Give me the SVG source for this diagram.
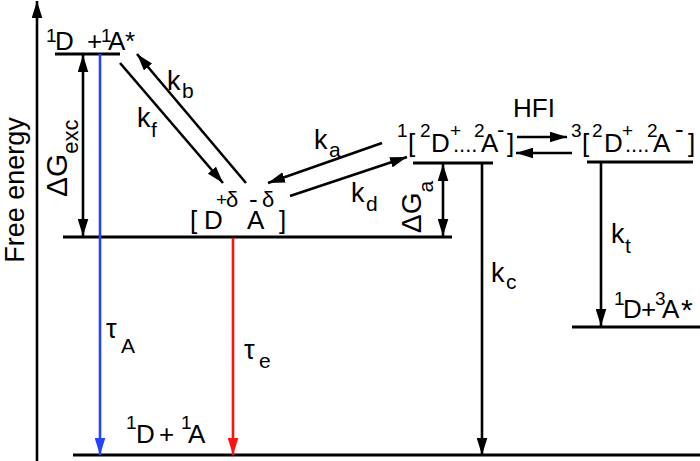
<svg xmlns="http://www.w3.org/2000/svg" width="700" height="461" viewBox="0 0 700 461">
<style>
text{font-family:"Liberation Sans",Arial,Helvetica,sans-serif;fill:#000;font-size:26px}
.s{font-size:19px}
.k{font-size:27px}
.ks{font-size:21px}
.d{font-size:22px}
.lvl{stroke:#000;stroke-width:3;fill:none}
.ar{stroke:#000;stroke-width:2.6;fill:none}
</style>
<defs>
<marker id="ah" markerUnits="userSpaceOnUse" markerWidth="17" markerHeight="11" refX="16" refY="5" orient="auto-start-reverse" viewBox="0 0 16 10"><path d="M0,0 L16,5 L0,10 z" fill="#000"/></marker>
<marker id="ahb" markerUnits="userSpaceOnUse" markerWidth="17" markerHeight="11" refX="16" refY="5" orient="auto" viewBox="0 0 16 10"><path d="M0,0 L16,5 L0,10 z" fill="#2244ff"/></marker>
<marker id="ahr" markerUnits="userSpaceOnUse" markerWidth="17" markerHeight="11" refX="16" refY="5" orient="auto" viewBox="0 0 16 10"><path d="M0,0 L16,5 L0,10 z" fill="#ff1111"/></marker>
</defs>
<g id="axis">
<line class="ar" x1="37" y1="461" x2="37" y2="1" marker-end="url(#ah)"/>
<text text-anchor="middle" transform="translate(24,190) rotate(-90)" style="font-size:27px">Free energy</text>
</g>
<g id="state-excited">
<line class="lvl" x1="55" y1="54" x2="120" y2="54"/>
<text><tspan class="s" x="46" y="42">1</tspan><tspan x="55" y="50">D</tspan><tspan x="87" y="50">+</tspan><tspan class="s" x="101" y="42">1</tspan><tspan x="108" y="50">A</tspan><tspan x="125" y="50">*</tspan></text>
</g>
<g id="state-exciplex">
<line class="lvl" x1="63" y1="237" x2="452" y2="237"/>
<text><tspan x="190" y="229">[</tspan><tspan x="204" y="229">D</tspan><tspan class="s" x="216" y="206">+</tspan><tspan class="d" x="226" y="207">δ</tspan><tspan style="font-size:26px" x="249" y="208">-</tspan><tspan x="247" y="229">A</tspan><tspan class="d" x="262" y="207">δ</tspan><tspan x="279" y="229">]</tspan></text>
</g>
<g id="state-singlet-rp">
<line class="lvl" x1="413" y1="163" x2="493" y2="163"/>
<text><tspan class="s" x="397" y="137">1</tspan><tspan x="408" y="152">[</tspan><tspan class="s" x="420" y="137">2</tspan><tspan x="431" y="152">D</tspan><tspan class="s" x="450" y="137">+</tspan><tspan x="453" y="152" style="font-size:22px">....</tspan><tspan class="s" x="474" y="137">2</tspan><tspan x="481" y="152">A</tspan><tspan style="font-size:22px" x="497" y="137">-</tspan><tspan x="507" y="152">]</tspan></text>
</g>
<g id="state-triplet-rp">
<line class="lvl" x1="587" y1="162" x2="693" y2="162"/>
<text><tspan class="s" x="571" y="137">3</tspan><tspan x="582" y="152">[</tspan><tspan class="s" x="592" y="137">2</tspan><tspan x="604" y="152">D</tspan><tspan class="s" x="622" y="137">+</tspan><tspan x="625" y="152" style="font-size:22px">....</tspan><tspan class="s" x="647" y="137">2</tspan><tspan x="653" y="152">A</tspan><tspan style="font-size:26px" x="675" y="138">-</tspan><tspan x="688" y="152">]</tspan></text>
</g>
<g id="state-triplet-acceptor">
<line class="lvl" x1="572" y1="327" x2="700" y2="327"/>
<text><tspan class="s" x="614" y="305">1</tspan><tspan x="623" y="318">D</tspan><tspan x="641" y="318">+</tspan><tspan class="s" x="655" y="305">3</tspan><tspan x="662" y="318">A</tspan><tspan style="font-size:30px" x="681" y="320">*</tspan></text>
</g>
<g id="state-ground">
<line class="lvl" x1="73" y1="455" x2="700" y2="455"/>
<text><tspan class="s" x="126" y="429">1</tspan><tspan x="136" y="443">D</tspan><tspan x="159" y="443">+</tspan><tspan class="s" x="181" y="429">1</tspan><tspan x="188" y="443">A</tspan></text>
</g>
<g id="connectors">
<line class="ar" x1="83" y1="55" x2="83" y2="236" marker-start="url(#ah)" marker-end="url(#ah)"/>
<line x1="100" y1="54" x2="100" y2="455" stroke="#2244ff" stroke-width="2.6" marker-end="url(#ahb)"/>
<line x1="233" y1="238" x2="233" y2="455" stroke="#ff1111" stroke-width="2.6" marker-end="url(#ahr)"/>
<line class="ar" x1="120" y1="63" x2="223" y2="183" marker-end="url(#ah)"/>
<line class="ar" x1="246" y1="183" x2="137" y2="54" marker-end="url(#ah)"/>
<line class="ar" x1="382" y1="143" x2="268" y2="183" marker-end="url(#ah)"/>
<line class="ar" x1="290" y1="196" x2="407" y2="157" marker-end="url(#ah)"/>
<line class="ar" x1="517" y1="137" x2="567" y2="137" marker-end="url(#ah)"/>
<line class="ar" x1="572" y1="153" x2="516" y2="153" marker-end="url(#ah)"/>
<line class="ar" x1="443" y1="164" x2="443" y2="236" marker-start="url(#ah)" marker-end="url(#ah)"/>
<line class="ar" x1="482" y1="164" x2="482" y2="455" marker-end="url(#ah)"/>
<line class="ar" x1="601" y1="163" x2="601" y2="326" marker-end="url(#ah)"/>
</g>
<g id="labels">
<text transform="translate(67,197) rotate(-90)"><tspan x="0" y="0" style="font-size:30px">ΔG</tspan><tspan y="11" style="font-size:22px">exc</tspan></text>
<text transform="translate(421,233) rotate(-90)"><tspan x="0" y="0" style="font-size:28px">ΔG</tspan><tspan y="12" style="font-size:21px">a</tspan></text>
<text><tspan class="k" x="167" y="90">k</tspan><tspan class="ks" x="182" y="98">b</tspan></text>
<text><tspan class="k" x="137" y="127">k</tspan><tspan class="ks" x="151" y="137">f</tspan></text>
<text><tspan class="k" x="314" y="149">k</tspan><tspan class="ks" x="329" y="157">a</tspan></text>
<text><tspan class="k" x="351" y="202">k</tspan><tspan class="ks" x="366" y="211">d</tspan></text>
<text><tspan class="k" x="491" y="282">k</tspan><tspan class="ks" x="506" y="289">c</tspan></text>
<text><tspan class="k" x="611" y="243">k</tspan><tspan class="ks" x="625" y="253">t</tspan></text>
<text><tspan class="k" x="106" y="338">τ</tspan><tspan class="ks" x="121" y="353">A</tspan></text>
<text><tspan class="k" x="244" y="359">τ</tspan><tspan class="ks" x="259" y="368">e</tspan></text>
<text x="513" y="117">HFI</text>
</g>
</svg>
